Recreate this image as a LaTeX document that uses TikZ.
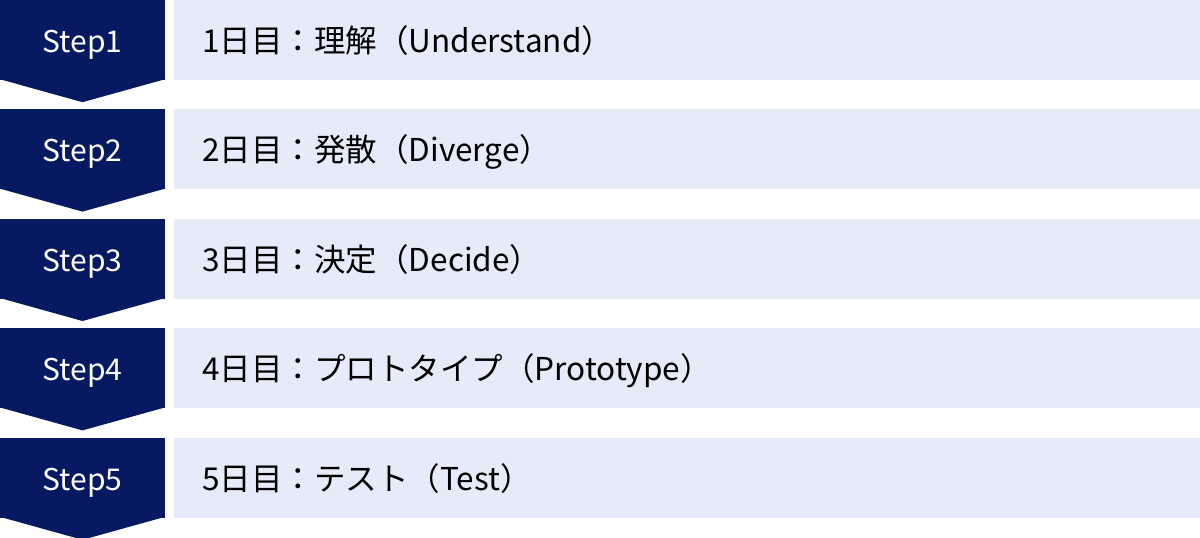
\documentclass[tikz,border=0pt]{standalone}
\usepackage{fontspec}
\setmainfont{Noto Sans CJK JP}
\usetikzlibrary{calc,positioning}
\definecolor{stepnavy}{RGB}{6,25,97}
\definecolor{daybg}{RGB}{229,235,249}
\tikzset{%
	stepbox/.style = {fill=stepnavy, text=white, minimum width=165pt, minimum height=80pt, inner sep=0pt, text height=25pt, text depth=0pt, font=\fontsize{30}{30}\selectfont}, % Step
	daybox/.style  = {fill=daybg, text=black, minimum height=80pt, text width=970pt, inner xsep=28pt, inner ysep=0pt, text height=25pt, text depth=0pt, align=left, font=\fontsize{31.5}{31.5}\selectfont}, % Day
}
% arrow point under a step box
\newcommand{\steptip}[1]{\fill[stepnavy] ([yshift=1]#1.south west) -- ([yshift=1]#1.south east) -- ($(#1.south)+(0,-22)$) -- cycle;}

\begin{document}
\begin{tikzpicture}[x=1pt, y=1pt, node distance = 29pt]
	\useasboundingbox (0,0) rectangle (1200,-538);
	\node[stepbox] (s1) at (82.5,-40) {Step1};
	\node[stepbox, below=of s1] (s2) {Step2};
	\node[stepbox, below=of s2] (s3) {Step3};
	\node[stepbox, below=of s3] (s4) {Step4};
	\node[stepbox, below=of s4] (s5) {Step5};
	\steptip{s1}
	\steptip{s2}
	\steptip{s3}
	\steptip{s4}
	\steptip{s5}
	
	\node[daybox, right=9pt of s1] (d1) {1日目：理解（Understand）};
	\node[daybox, right=9pt of s2] (d2) {2日目：発散（Diverge）};
	\node[daybox, right=9pt of s3] (d3) {3日目：決定（Decide）};
	\node[daybox, right=9pt of s4] (d4) {4日目：プロトタイプ（Prototype）};
	\node[daybox, right=9pt of s5] (d5) {5日目：テスト（Test）};
\end{tikzpicture}
\end{document}
